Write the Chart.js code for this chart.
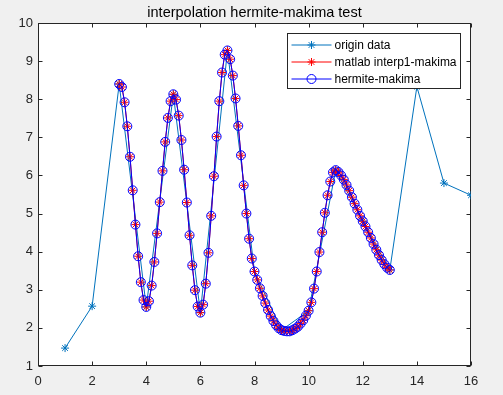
<!DOCTYPE html>
<html>
<head>
<meta charset="utf-8">
<title>interpolation hermite-makima test</title>
<script src="https://cdn.jsdelivr.net/npm/chart.js"></script>
<style>
    html, body { margin: 0; padding: 0; background: #f0f0f0; }
    #wrap { width: 503px; height: 395px; }
</style>
</head>
<body>
<div id="wrap"><canvas id="plot" width="503" height="395"></canvas></div>
<script>
// 原始數據點
const originX = [1, 2, 3, 4, 5, 6, 7, 8, 9, 10, 11, 12, 13, 14, 15, 16];
const originY = [1.47, 2.57, 8.4, 2.55, 8.13, 2.4, 9.28, 3.48, 1.94, 2.45, 6.14, 4.8, 3.52, 8.33, 5.8, 5.48];

// 插值點 (3 到 13)
const interpX = [
    3.0, 3.1, 3.2, 3.3, 3.4, 3.5, 3.6, 3.7, 3.8, 3.9,
    4.0, 4.1, 4.2, 4.3, 4.4, 4.5, 4.6, 4.7, 4.8, 4.9,
    5.0, 5.1, 5.2, 5.3, 5.4, 5.5, 5.6, 5.7, 5.8, 5.9,
    6.0, 6.1, 6.2, 6.3, 6.4, 6.5, 6.6, 6.7, 6.8, 6.9,
    7.0, 7.1, 7.2, 7.3, 7.4, 7.5, 7.6, 7.7, 7.8, 7.9,
    8.0, 8.1, 8.2, 8.3, 8.4, 8.5, 8.6, 8.7, 8.8, 8.9,
    9.0, 9.1, 9.2, 9.3, 9.4, 9.5, 9.6, 9.7, 9.8, 9.9,
    10.0, 10.1, 10.2, 10.3, 10.4, 10.5, 10.6, 10.7, 10.8, 10.9,
    11.0, 11.1, 11.2, 11.3, 11.4, 11.5, 11.6, 11.7, 11.8, 11.9,
    12.0, 12.1, 12.2, 12.3, 12.4, 12.5, 12.6, 12.7, 12.8, 12.9,
    13.0
];

// matlab interp1 'makima' 結果
const matlabY = [
    8.40, 8.32, 7.92, 7.29, 6.49, 5.61, 4.71, 3.88, 3.20, 2.73,
    2.55, 2.70, 3.11, 3.73, 4.48, 5.30, 6.12, 6.88, 7.51, 7.95,
    8.13, 7.99, 7.57, 6.93, 6.15, 5.29, 4.43, 3.64, 2.99, 2.56,
    2.40, 2.61, 3.16, 3.97, 4.94, 5.98, 7.02, 7.95, 8.70, 9.17,
    9.28, 9.05, 8.62, 8.02, 7.30, 6.53, 5.74, 5.00, 4.34, 3.82,
    3.48, 3.26, 3.04, 2.84, 2.65, 2.47, 2.31, 2.18, 2.07, 1.99,
    1.94, 1.92, 1.91, 1.91, 1.94, 1.98, 2.03, 2.11, 2.20, 2.32,
    2.45, 2.67, 3.03, 3.48, 3.99, 4.51, 5.02, 5.48, 5.84, 6.08,
    6.14, 6.09, 6.00, 5.89, 5.75, 5.60, 5.43, 5.26, 5.10, 4.94,
    4.80, 4.66, 4.51, 4.36, 4.20, 4.05, 3.91, 3.78, 3.67, 3.58,
    3.52
];

// hermite-makima 結果
const hermiteY = [
    8.40, 8.32, 7.92, 7.29, 6.49, 5.61, 4.71, 3.88, 3.20, 2.73,
    2.55, 2.70, 3.11, 3.73, 4.48, 5.30, 6.12, 6.88, 7.51, 7.95,
    8.13, 7.99, 7.57, 6.93, 6.15, 5.29, 4.43, 3.64, 2.99, 2.56,
    2.40, 2.61, 3.16, 3.97, 4.94, 5.98, 7.02, 7.95, 8.70, 9.17,
    9.28, 9.05, 8.62, 8.02, 7.30, 6.53, 5.74, 5.00, 4.34, 3.82,
    3.48, 3.26, 3.04, 2.84, 2.65, 2.47, 2.31, 2.18, 2.07, 1.99,
    1.94, 1.92, 1.91, 1.91, 1.94, 1.98, 2.03, 2.11, 2.20, 2.32,
    2.45, 2.67, 3.03, 3.48, 3.99, 4.51, 5.02, 5.48, 5.84, 6.08,
    6.14, 6.09, 6.00, 5.89, 5.75, 5.60, 5.43, 5.26, 5.10, 4.94,
    4.80, 4.66, 4.51, 4.36, 4.20, 4.05, 3.91, 3.78, 3.67, 3.58,
    3.52
];

const seriesLabels = ['origin data', 'matlab interp1-makima', 'hermite-makima'];
const xTicks = [0, 2, 4, 6, 8, 10, 12, 14, 16];
const yTicks = [1, 2, 3, 4, 5, 6, 7, 8, 9, 10];

const AXIS_COLOR = '#262626';
const FONT = '"Liberation Sans", Arial, Helvetica, sans-serif';

function toPoints(xs, ys) {
    return xs.map((x, i) => ({ x: x, y: ys[i] }));
}

// 座標框與向內刻度 (MATLAB 風格)
const axesBox = {
    id: 'axesBox',
    beforeDatasetsDraw(chart) {
        const ctx = chart.ctx;
        const a = chart.chartArea;
        const L = Math.round(a.left) + 0.5;
        const R = Math.round(a.right) - 0.5;
        const T = Math.round(a.top) + 0.5;
        const B = Math.round(a.bottom) - 0.5;
        ctx.save();
        ctx.fillStyle = '#ffffff';
        ctx.fillRect(L, T, R - L, B - T);
        ctx.strokeStyle = AXIS_COLOR;
        ctx.lineWidth = 1;
        ctx.beginPath();
        chart.scales.x.ticks.forEach(t => {
            const px = Math.round(chart.scales.x.getPixelForValue(t.value)) + 0.5;
            ctx.moveTo(px, B); ctx.lineTo(px, B - 4);
            ctx.moveTo(px, T); ctx.lineTo(px, T + 4);
        });
        chart.scales.y.ticks.forEach(t => {
            const py = Math.round(chart.scales.y.getPixelForValue(t.value)) + 0.5;
            ctx.moveTo(L, py); ctx.lineTo(L + 4, py);
            ctx.moveTo(R, py); ctx.lineTo(R - 4, py);
        });
        ctx.stroke();
        ctx.strokeRect(L, T, R - L, B - T);
        ctx.restore();
    }
};

// 圖例 (線段 + 標記)
const matlabLegend = {
    id: 'matlabLegend',
    afterDraw(chart) {
        const ctx = chart.ctx;
        const a = chart.chartArea;
        const boxW = 173, boxH = 55;
        const bx = Math.round(a.right) - 11 - boxW + 0.5;
        const by = Math.round(a.top) + 10 + 0.5;
        ctx.save();
        ctx.fillStyle = '#ffffff';
        ctx.fillRect(bx, by, boxW, boxH);
        ctx.strokeStyle = AXIS_COLOR;
        ctx.lineWidth = 1;
        ctx.strokeRect(bx, by, boxW, boxH);
        ctx.font = '12px ' + FONT;
        ctx.textBaseline = 'middle';
        ctx.textAlign = 'left';
        chart.data.datasets.forEach((ds, i) => {
            const rowY = by + 11.5 + i * 17;
            ctx.strokeStyle = ds.borderColor;
            ctx.lineWidth = ds.borderWidth;
            ctx.beginPath();
            ctx.moveTo(bx + 4, rowY);
            ctx.lineTo(bx + 44, rowY);
            ctx.stroke();
            ctx.strokeStyle = ds.pointBorderColor;
            ctx.fillStyle = 'rgba(0,0,0,0)';
            ctx.lineWidth = 1;
            Chart.helpers.drawPoint(ctx, {
                pointStyle: ds.pointStyle,
                radius: ds.pointRadius,
                rotation: 0,
                borderWidth: 1
            }, bx + 24, rowY);
            ctx.fillStyle = '#000000';
            ctx.fillText(ds.label, bx + 47, rowY + 0.5);
        });
        ctx.restore();
    }
};

const ctx = document.getElementById('plot').getContext('2d');
const chart = new Chart(ctx, {
    type: 'line',
    data: {
        datasets: [
            {
                label: seriesLabels[0],
                data: toPoints(originX, originY),
                borderColor: '#0072BD',
                borderWidth: 1,
                pointStyle: 'star',
                pointRadius: 4,
                pointBorderColor: '#0072BD',
                pointBackgroundColor: 'rgba(0,0,0,0)',
                pointBorderWidth: 1,
                tension: 0,
                order: 2
            },
            {
                label: seriesLabels[1],
                data: toPoints(interpX, matlabY),
                borderColor: '#FF0000',
                borderWidth: 1,
                pointStyle: 'star',
                pointRadius: 4,
                pointBorderColor: '#FF0000',
                pointBackgroundColor: 'rgba(0,0,0,0)',
                pointBorderWidth: 1,
                tension: 0,
                order: 1
            },
            {
                label: seriesLabels[2],
                data: toPoints(interpX, hermiteY),
                borderColor: '#0000FF',
                borderWidth: 1,
                pointStyle: 'circle',
                pointRadius: 4.5,
                pointBorderColor: '#0000FF',
                pointBackgroundColor: 'rgba(0,0,0,0)',
                pointBorderWidth: 1,
                tension: 0,
                order: 0
            }
        ]
    },
    options: {
        responsive: false,
        animation: false,
        devicePixelRatio: 1,
        events: [],
        layout: { padding: { top: 0, right: 32, bottom: 0, left: 0 } },
        scales: {
            x: {
                type: 'linear',
                min: 0,
                max: 16,
                afterFit: s => { s.height = 29; },
                afterBuildTicks: s => { s.ticks = xTicks.map(v => ({ value: v })); },
                grid: { display: false, drawTicks: false },
                border: { display: false },
                ticks: {
                    autoSkip: false,
                    maxRotation: 0,
                    padding: 8,
                    color: AXIS_COLOR,
                    font: { family: FONT, size: 13 }
                }
            },
            y: {
                type: 'linear',
                min: 1,
                max: 10,
                afterFit: s => { s.width = 38; },
                afterBuildTicks: s => { s.ticks = yTicks.map(v => ({ value: v })); },
                grid: { display: false, drawTicks: false },
                border: { display: false },
                ticks: {
                    autoSkip: false,
                    padding: 5,
                    color: AXIS_COLOR,
                    font: { family: FONT, size: 13 }
                }
            }
        },
        plugins: {
            legend: { display: false },
            tooltip: { enabled: false },
            title: {
                display: true,
                text: 'interpolation hermite-makima test',
                fullSize: false,
                color: '#000000',
                font: { family: FONT, size: 14.5, weight: 'normal', lineHeight: 1.2 },
                padding: { top: 4, bottom: 1.6 }
            }
        }
    },
    plugins: [axesBox, matlabLegend]
});
</script>
</body>
</html>
